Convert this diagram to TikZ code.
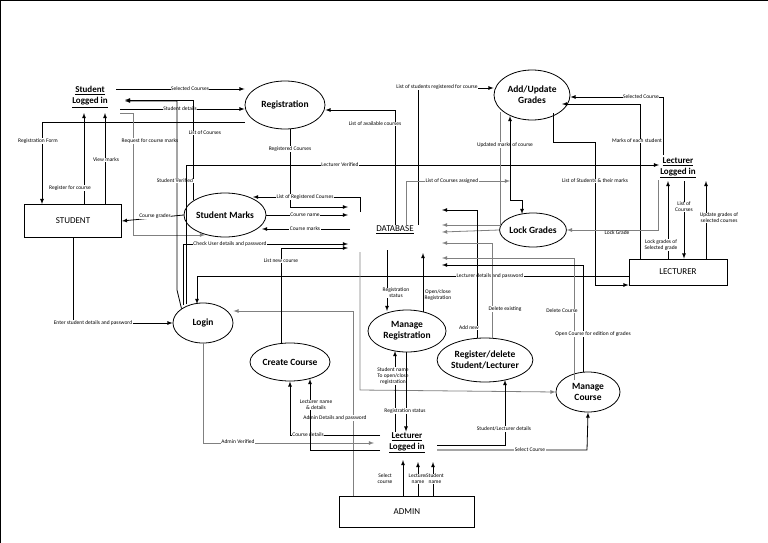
\documentclass[tikz,border=0pt]{standalone}
\usepackage{fontspec}
\setmainfont{Carlito}
\usetikzlibrary{shapes,arrows,positioning}

\begin{document}
\begin{tikzpicture}[
    x=1pt, y=-1pt,
    proc/.style={draw, ellipse, thick, inner sep=0pt, align=center, font=\fontsize{9.5}{11}\selectfont\bfseries},
    ent/.style={draw, thick, inner sep=0pt, align=center, font=\fontsize{9}{10}\selectfont},
    store/.style={align=center, inner sep=1pt, font=\fontsize{9}{11}\selectfont\bfseries},
    lbl/.style={font=\fontsize{5.5}{6}\selectfont, fill=white, inner sep=0.5pt, align=center},
    flow/.style={->, >=latex, thick},
    gflow/.style={->, >=latex, thick, gray}
]
    \useasboundingbox (0,0) rectangle (768,543);
    \draw[thick] (0,0) rectangle (768,543);

    % Processes
    \node[proc, minimum width=80, minimum height=48] (reg) at (285,105) {Registration};
    \node[proc, minimum width=76, minimum height=50] (grades) at (532,95) {Add/Update\\Grades};
    \node[proc, minimum width=82, minimum height=44] (marks) at (225,215) {Student Marks};
    \node[proc, minimum width=66, minimum height=34] (lock) at (533,230) {Lock Grades};
    \node[proc, minimum width=60, minimum height=40] (login) at (203,323) {Login};
    \node[proc, minimum width=78, minimum height=42] (mreg) at (407,331) {Manage\\Registration};
    \node[proc, minimum width=92, minimum height=44] (regdel) at (485,360) {Register/delete\\Student/Lecturer};
    \node[proc, minimum width=80, minimum height=38] (create) at (290,362) {Create Course};
    \node[proc, minimum width=64, minimum height=40] (mcourse) at (588,392) {Manage\\Course};

    % Entities and stores
    \node[ent, minimum width=97, minimum height=33] (student) at (73,221) {STUDENT};
    \node[ent, minimum width=98, minimum height=26] (lecturer) at (678,272) {LECTURER};
    \node[ent, minimum width=135, minimum height=31] (admin) at (407,512) {ADMIN};
    \node[store] (sli) at (90,97) {\underline{Student}\\\underline{Logged in}};
    \node[store] (lli) at (678,168) {\underline{Lecturer}\\\underline{Logged in}};
    \node[store] (ali) at (407,443) {\underline{Lecturer}\\\underline{Logged in}};
    \node[store, font=\fontsize{9}{11}\selectfont] (db) at (395,230) {\underline{DATABASE}};

    % Student side
    \draw[flow] (116,89) -- (reg.west |- 0,89);
    \node[lbl] at (190,89) {Selected Courses};
    \draw[flow] (120,109) -- (reg.west |- 0,109);
    \node[lbl] at (180,109) {Student details};
    \draw[flow] (reg.west |- 0,122) -- (42,122) -- (42,0 |- student.north);
    \node[lbl] at (38,141) {Registration Form};
    \draw[flow] (84,0 |- student.north) -- (84,113);
    \node[lbl] at (70,188) {Register for course};
    \draw[flow] (105,0 |- student.north) -- (105,113);
    \node[lbl] at (106,160) {View marks};
    \draw[gflow] (120,113) -- (133,113) -- (133,235) -- (205,235);
    \node[lbl] at (150,141) {Request for course marks};
    \draw[flow] (193,200) -- (193,100) -- (125,100);
    \node[lbl] at (205,133) {List of Courses};
    \draw[flow] (marks.west) -- (student.east);
    \node[lbl] at (155,216) {Course grades};
    \draw[flow] (73,0 |- student.south) -- (73,323) -- (login.west);
    \node[lbl] at (93,323) {Enter student details and password};

    % Student Marks / Registration with database
    \draw[flow] (290,0 |- reg.south) -- (290,207) -- (348,207);
    \node[lbl] at (290,149) {Registered Courses};
    \draw[thick, ->, >=latex] (360,212) -- (360,197) -- (253,197);
    \node[lbl] at (305,197) {List of Registered Courses};
    \draw[flow] (marks.east) -- (348,215);
    \node[lbl] at (305,215) {Course name};
    \draw[flow] (350,229) -- (262,229);
    \node[lbl] at (305,229) {Course marks};
    \draw[flow] (395,0 |- db.north) -- (395,110) -- (reg.east |- 0,110);
    \node[lbl] at (375,124) {List of available courses};

    % Login
    \draw[flow] (login.north west) -- (177,290) -- (177,101) -- (125,101);
    \node[lbl] at (175,181) {Student Verified};
    \draw[flow] (183,305) -- (183,244) -- (348,244);
    \node[lbl] at (230,244) {Check User details and password};
    \draw[flow] (186,304) -- (186,165) -- (lli.west |- 0,165);
    \node[lbl] at (340,165) {Lecturer Verified};
    \draw[flow] (lecturer.west |- 0,276) -- (197,276) -- (197,304);
    \node[lbl] at (490,276) {Lecturer details and password};
    \draw[gflow] (353,0 |- admin.north) -- (353,311) -- (login.east |- 0,311);
    \node[lbl] at (335,418) {Admin Details and password};
    \draw[gflow] (login.south) -- (203,443) -- (374,443);
    \node[lbl] at (238,442) {Admin Verified};

    % Grades
    \draw[flow] (418,0 |- db.north) -- (418,88) -- (grades.west |- 0,88);
    \node[lbl] at (437,87) {List of students registered for course};
    \draw[gflow] (500,112) -- (500,225) -- (442,225);
    \node[lbl] at (505,145) {Updated marks of course};
    \draw[gflow] (406,0 |- db.north) -- (406,181) -- (510,181);
    \node[lbl] at (452,181) {List of Courses assigned};
    \draw[thick, <->, >=latex] (510,116) -- (510,200) -- (522,200) -- (522,214);
    \draw[flow] (663,155) -- (663,97) -- (grades.east |- 0,97);
    \node[lbl] at (641,97) {Selected Course};
    \draw[flow] (640,0 |- lecturer.north) -- (640,104) -- (562,104);
    \node[lbl] at (637,141) {Marks of each student};
    \draw[flow] (553,113) -- (553,142) -- (595,142) -- (595,285) -- (lecturer.west |- 0,285);
    \node[lbl] at (595,181) {List of Students \& their marks};
    \draw[gflow] (658,180) -- (658,230) -- (lock.east);
    \node[lbl] at (617,233) {Lock Grade};
    \draw[gflow] (lock.west) -- (442,232);

    % Lecturer
    \draw[flow] (668,0 |- lecturer.north) -- (668,181);
    \node[lbl] at (661,245) {Lock grades of\\Selected grade};
    \draw[flow] (684,181) -- (684,0 |- lecturer.north);
    \node[lbl] at (684,207) {List of\\Courses};
    \draw[flow] (706,0 |- lecturer.north) -- (706,181);
    \node[lbl] at (719,218) {Update grades of\\selected courses};

    % Admin processes with database
    \draw[flow] (387,250) -- (387,311);
    \node[lbl] at (396,293) {Registration\\status};
    \draw[flow] (423,312) -- (423,253);
    \node[lbl] at (438,295) {Open/close\\Registration};
    \draw[flow] (477,338) -- (477,210) -- (442,210);
    \node[lbl] at (469,328) {Add new};
    \draw[gflow] (492,338) -- (492,243) -- (442,243);
    \node[lbl] at (505,309) {Delete existing};
    \draw[gflow] (574,380) -- (574,258) -- (442,258);
    \node[lbl] at (562,311) {Delete Course};
    \draw[flow] (583,0 |- mcourse.north) -- (583,265) -- (442,265);
    \node[lbl] at (593,334) {Open Course for edition of grades};
    \draw[flow] (281,0 |- create.north) -- (281,248) -- (348,248);
    \node[lbl] at (281,261) {List new course};
    \draw[gflow] (360,252) -- (360,390) -- (mcourse.west);

    % Admin side
    \draw[flow] (380,435) -- (290,435) -- (create.south);
    \node[lbl] at (308,435) {Course details};
    \draw[flow] (380,450) -- (310,450) -- (310,379);
    \node[lbl] at (316,405) {Lecturer name\\\& details};
    \draw[flow] (395,0 |- ali.north) -- (395,351);
    \node[lbl] at (393,376) {Student name\\To open/close\\registration};
    \draw[flow] (406,0 |- mreg.south) -- (406,0 |- ali.north);
    \node[lbl] at (405,411) {Registration status};
    \draw[flow] (437,445) -- (505,445) -- (505,380);
    \node[lbl] at (504,429) {Student/Lecturer details};
    \draw[flow] (437,450) -- (587,450) -- (mcourse.south);
    \node[lbl] at (530,450) {Select Course};
    \draw[flow] (403,0 |- admin.north) -- (403,460);
    \node[lbl] at (385,479) {Select\\course};
    \draw[flow] (418,0 |- admin.north) -- (418,462);
    \node[lbl] at (418,479) {Lecturer\\name};
    \draw[flow] (433,0 |- admin.north) -- (433,462);
    \node[lbl] at (435,479) {Student\\name};
\end{tikzpicture}
\end{document}
